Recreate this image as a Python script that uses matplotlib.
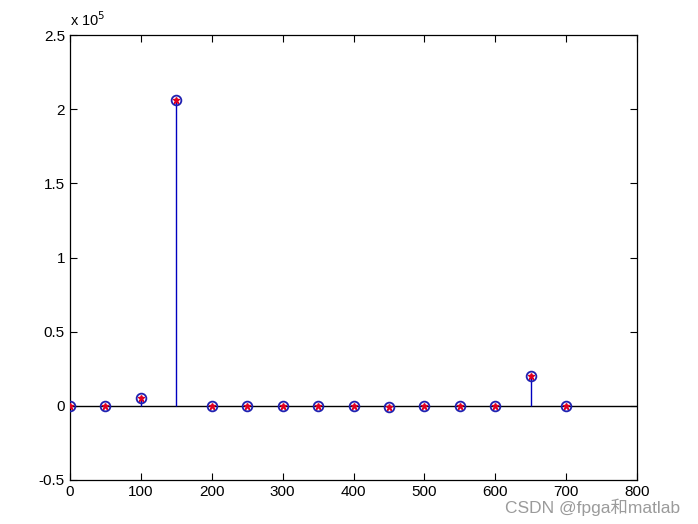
import matplotlib.pyplot as plt

plt.rcParams['font.family'] = ['Liberation Sans', 'Noto Sans CJK SC', 'DejaVu Sans']

# frequency bins and magnitudes (in units of 1e5)
freq = [0, 50, 100, 150, 200, 250, 300, 350, 400, 450, 500, 550, 600, 650, 700]
mag = [0.0, 0.0, 0.05, 2.06, 0.0, 0.0, 0.0, 0.0, 0.0, -0.008, 0.0, 0.0, 0.0, 0.2, 0.0]

fig = plt.figure(figsize=(6.98, 5.24), dpi=100)
ax = fig.add_axes([0.100, 0.084, 0.813, 0.849])

ax.axhline(0, color='black', linewidth=1.0, zorder=1)
ax.vlines(freq, 0, mag, colors='#0000c0', linewidth=1.0, zorder=2)
ax.plot(freq, mag, 'o', markersize=7, markerfacecolor='none',
        markeredgecolor='#2020b0', markeredgewidth=1.3, linestyle='none', zorder=3)
ax.plot(freq, mag, '*', markersize=5, color='#e00020', linestyle='none', zorder=4)

ax.set_xlim(0, 800)
ax.set_ylim(-0.5, 2.5)
ax.set_xticks(range(0, 801, 100))
ax.set_yticks([-0.5, 0, 0.5, 1, 1.5, 2, 2.5])
ax.set_yticklabels(['-0.5', '0', '0.5', '1', '1.5', '2', '2.5'])
ax.tick_params(direction='in', top=True, right=True, labelsize=11, length=5)
for s in ax.spines.values():
    s.set_linewidth(0.9)

fig.text(0.100, 0.945, r'x 10$^5$', fontsize=10.5, ha='left', va='bottom')

fig.text(0.975, 0.015, 'CSDN @fpga和matlab', fontsize=12.5, color='#909090',
         ha='right', va='bottom', alpha=0.9)

fig.savefig('out.png', dpi=100)
